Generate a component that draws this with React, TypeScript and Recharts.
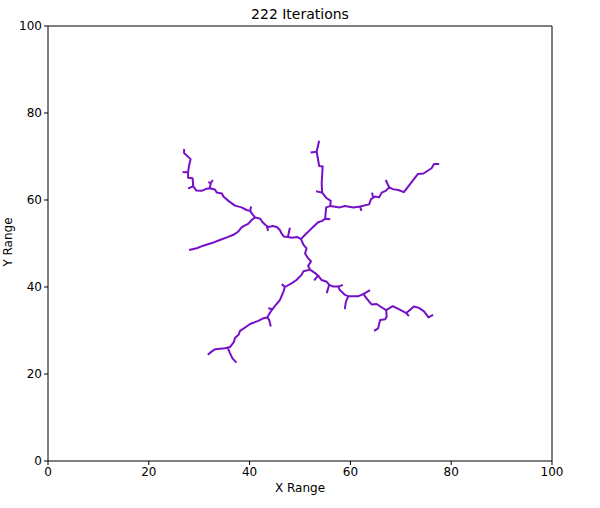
import { LineChart, Line, XAxis, YAxis, ReferenceLine } from "recharts";

type Pt = { x: number; y: number };

// values, in data units
const ticks = [0, 20, 40, 60, 80, 100];

const upperLeftArm: Pt[] = [
  { x: 50.2, y: 51.0 }, { x: 49.4, y: 51.5 }, { x: 48.4, y: 51.3 }, { x: 47.6, y: 51.5 },
  { x: 46.8, y: 51.6 }, { x: 46.4, y: 52.2 }, { x: 46.0, y: 53.1 }, { x: 45.4, y: 53.8 },
  { x: 44.6, y: 54.0 }, { x: 43.7, y: 53.8 }, { x: 43.1, y: 54.3 }, { x: 42.5, y: 55.0 },
  { x: 42.1, y: 55.7 }, { x: 41.1, y: 56.0 }, { x: 40.5, y: 56.8 }, { x: 40.1, y: 57.5 },
  { x: 39.4, y: 57.7 }, { x: 38.4, y: 58.3 }, { x: 37.1, y: 58.7 }, { x: 35.8, y: 59.8 },
  { x: 34.8, y: 60.8 }, { x: 34.5, y: 61.5 }, { x: 33.5, y: 61.7 }, { x: 33.1, y: 62.4 },
  { x: 32.1, y: 62.7 }, { x: 31.5, y: 62.6 }, { x: 30.5, y: 62.1 }, { x: 29.4, y: 62.2 },
  { x: 28.8, y: 63.2 }, { x: 28.7, y: 65.0 }, { x: 27.8, y: 65.1 }, { x: 27.8, y: 66.4 },
  { x: 28.0, y: 68.0 }, { x: 28.3, y: 69.4 }, { x: 27.0, y: 70.8 }, { x: 27.0, y: 71.7 },
];

const leftLowerArm: Pt[] = [
  { x: 41.1, y: 56.0 }, { x: 40.4, y: 55.4 }, { x: 39.7, y: 54.5 }, { x: 38.8, y: 54.0 },
  { x: 38.4, y: 53.7 }, { x: 37.7, y: 52.7 }, { x: 36.8, y: 52.0 }, { x: 35.5, y: 51.4 },
  { x: 34.1, y: 50.8 }, { x: 32.5, y: 50.1 }, { x: 30.8, y: 49.5 }, { x: 29.5, y: 48.9 },
  { x: 28.0, y: 48.5 },
];

const centreToJunction: Pt[] = [
  { x: 50.2, y: 51.0 }, { x: 51.0, y: 52.0 }, { x: 51.8, y: 52.9 }, { x: 52.6, y: 53.8 },
  { x: 53.6, y: 54.9 }, { x: 54.4, y: 55.2 }, { x: 55.0, y: 55.7 }, { x: 56.0, y: 55.6 },
];

const junctionStem: Pt[] = [
  { x: 55.0, y: 55.7 }, { x: 55.1, y: 57.2 }, { x: 55.2, y: 58.3 }, { x: 56.0, y: 58.6 },
];

const topArm: Pt[] = [
  { x: 56.0, y: 58.6 }, { x: 56.1, y: 59.8 }, { x: 55.3, y: 60.4 }, { x: 54.4, y: 61.7 },
  { x: 54.3, y: 63.8 }, { x: 54.5, y: 67.7 }, { x: 53.8, y: 67.8 }, { x: 53.6, y: 69.2 },
  { x: 53.3, y: 71.1 }, { x: 53.8, y: 73.6 },
];

const rightUpperArm: Pt[] = [
  { x: 56.0, y: 58.6 }, { x: 57.9, y: 58.3 }, { x: 58.9, y: 58.6 }, { x: 60.6, y: 58.3 },
  { x: 61.9, y: 58.5 }, { x: 63.7, y: 59.0 }, { x: 64.1, y: 60.2 }, { x: 64.9, y: 60.8 },
  { x: 65.7, y: 60.6 }, { x: 66.2, y: 61.7 }, { x: 67.0, y: 62.1 }, { x: 67.7, y: 62.9 },
  { x: 68.4, y: 62.5 }, { x: 69.5, y: 62.3 }, { x: 70.6, y: 61.8 }, { x: 71.8, y: 63.6 },
  { x: 73.4, y: 66.0 }, { x: 74.5, y: 66.1 }, { x: 76.1, y: 67.3 }, { x: 76.6, y: 68.3 },
  { x: 77.6, y: 68.3 },
];

const centreDown: Pt[] = [
  { x: 50.2, y: 51.0 }, { x: 50.7, y: 49.7 }, { x: 51.3, y: 48.9 }, { x: 51.0, y: 47.7 },
  { x: 51.6, y: 46.6 }, { x: 52.2, y: 45.9 }, { x: 51.6, y: 44.8 }, { x: 52.0, y: 44.0 },
];

const rightLowerArm: Pt[] = [
  { x: 52.0, y: 44.0 }, { x: 53.0, y: 43.2 }, { x: 53.6, y: 42.6 }, { x: 54.3, y: 41.6 },
  { x: 55.3, y: 41.2 }, { x: 55.8, y: 40.5 }, { x: 56.6, y: 40.1 }, { x: 57.6, y: 40.1 },
  { x: 57.9, y: 39.3 }, { x: 58.9, y: 38.2 }, { x: 59.6, y: 37.9 }, { x: 60.5, y: 37.9 },
  { x: 61.6, y: 37.9 }, { x: 62.6, y: 38.4 }, { x: 63.2, y: 37.4 }, { x: 64.2, y: 36.0 },
  { x: 65.2, y: 36.1 }, { x: 66.1, y: 35.4 }, { x: 67.1, y: 34.7 }, { x: 68.4, y: 35.6 },
  { x: 69.8, y: 34.8 }, { x: 71.1, y: 34.0 }, { x: 72.6, y: 35.5 }, { x: 73.6, y: 35.2 },
  { x: 74.6, y: 34.4 }, { x: 75.5, y: 33.0 }, { x: 76.4, y: 33.6 },
];

const rightLowerTail: Pt[] = [
  { x: 67.1, y: 34.7 }, { x: 67.2, y: 33.2 }, { x: 66.9, y: 32.6 }, { x: 65.9, y: 32.4 },
  { x: 65.5, y: 30.5 }, { x: 64.7, y: 29.9 },
];

const leftBottomArm: Pt[] = [
  { x: 52.0, y: 44.0 }, { x: 50.7, y: 43.6 }, { x: 50.3, y: 42.8 }, { x: 49.3, y: 41.6 },
  { x: 48.4, y: 40.9 }, { x: 47.0, y: 40.0 }, { x: 46.7, y: 38.9 }, { x: 46.0, y: 37.0 },
  { x: 45.0, y: 35.6 }, { x: 44.4, y: 34.7 }, { x: 44.0, y: 34.0 }, { x: 43.5, y: 33.0 },
  { x: 42.7, y: 32.8 }, { x: 41.7, y: 32.2 }, { x: 40.1, y: 31.5 }, { x: 39.1, y: 30.7 },
  { x: 38.1, y: 29.9 }, { x: 37.8, y: 29.0 }, { x: 37.1, y: 28.3 }, { x: 36.9, y: 27.4 },
  { x: 36.1, y: 26.2 }, { x: 35.1, y: 25.9 }, { x: 33.2, y: 25.7 }, { x: 32.5, y: 25.2 },
  { x: 31.7, y: 24.4 },
];

// short side twigs
const twigs: Pt[][] = [
  [{ x: 27.8, y: 66.4 }, { x: 26.7, y: 66.4 }],
  [{ x: 28.8, y: 63.2 }, { x: 27.8, y: 62.6 }],
  [{ x: 32.1, y: 62.7 }, { x: 32.3, y: 63.9 }, { x: 32.7, y: 64.6 }],
  [{ x: 32.3, y: 63.9 }, { x: 31.8, y: 64.1 }],
  [{ x: 40.1, y: 57.5 }, { x: 40.3, y: 58.5 }],
  [{ x: 43.4, y: 53.9 }, { x: 43.7, y: 52.9 }],
  [{ x: 47.6, y: 51.5 }, { x: 47.8, y: 52.6 }, { x: 48.0, y: 53.6 }],
  [{ x: 54.4, y: 61.7 }, { x: 53.2, y: 62.0 }],
  [{ x: 53.3, y: 71.1 }, { x: 52.1, y: 70.9 }],
  [{ x: 61.9, y: 58.5 }, { x: 62.2, y: 57.5 }],
  [{ x: 64.5, y: 60.6 }, { x: 64.3, y: 61.7 }],
  [{ x: 67.7, y: 62.9 }, { x: 67.0, y: 64.6 }],
  [{ x: 53.6, y: 42.6 }, { x: 52.8, y: 41.5 }],
  [{ x: 55.8, y: 40.5 }, { x: 55.3, y: 38.6 }],
  [{ x: 57.6, y: 40.1 }, { x: 58.5, y: 40.5 }],
  [{ x: 59.6, y: 37.9 }, { x: 59.1, y: 36.6 }, { x: 58.9, y: 34.9 }],
  [{ x: 62.6, y: 38.4 }, { x: 63.9, y: 39.3 }],
  [{ x: 71.1, y: 34.0 }, { x: 71.6, y: 33.3 }],
  [{ x: 47.0, y: 40.0 }, { x: 46.4, y: 40.7 }],
  [{ x: 44.6, y: 34.9 }, { x: 43.7, y: 35.1 }],
  [{ x: 43.5, y: 33.0 }, { x: 43.9, y: 32.4 }, { x: 44.2, y: 30.9 }],
  [{ x: 35.7, y: 25.9 }, { x: 36.1, y: 24.8 }, { x: 36.6, y: 23.6 }, { x: 37.4, y: 22.6 }],
];

const branches: Pt[][] = [
  upperLeftArm, leftLowerArm, centreToJunction, junctionStem, topArm, rightUpperArm,
  centreDown, rightLowerArm, rightLowerTail, leftBottomArm, ...twigs,
];

const PURPLE = "#7510c8";
const font = '"DejaVu Sans", sans-serif';

export default function App() {
  return (
    <div style={{ position: "absolute", left: 0, top: 0, width: 600, height: 508, background: "#fff", fontFamily: font }}>
      <div style={{ position: "absolute", top: 6, left: 0, width: 600, textAlign: "center", fontSize: 14, color: "#000" }}>
        222 Iterations
      </div>
      <div style={{ position: "absolute", top: 481, left: 48, width: 504, textAlign: "center", fontSize: 12, color: "#000" }}>
        X Range
      </div>
      <div
        style={{
          position: "absolute", left: 8, top: 243, width: 0, height: 0,
        }}
      >
        <div style={{ position: "absolute", left: -40, top: -8, width: 80, textAlign: "center", fontSize: 12, color: "#000", transform: "rotate(-90deg)", whiteSpace: "nowrap" }}>
          Y Range
        </div>
      </div>
      <LineChart width={600} height={508} margin={{ top: 26, right: 48, bottom: 0, left: 0 }}>
        <XAxis
          xAxisId="b"
          type="number"
          dataKey="x"
          domain={[0, 100]}
          ticks={ticks}
          height={47}
          stroke="#000"
          tickSize={4}
          tick={{ fill: "#000", fontSize: 12 }}
        />
        <YAxis
          yAxisId="l"
          type="number"
          domain={[0, 100]}
          ticks={ticks}
          width={48}
          stroke="#000"
          tickSize={4}
          tick={{ fill: "#000", fontSize: 12 }}
        />
        <ReferenceLine xAxisId="b" yAxisId="l" y={100} stroke="#000" strokeWidth={1} />
        <ReferenceLine xAxisId="b" yAxisId="l" x={100} stroke="#000" strokeWidth={1} />
        {branches.map((b, i) => (
          <Line
            key={i}
            xAxisId="b"
            yAxisId="l"
            data={b}
            dataKey="y"
            type="linear"
            dot={false}
            activeDot={false}
            stroke={PURPLE}
            strokeWidth={2}
            strokeLinejoin="round"
            isAnimationActive={false}
          />
        ))}
      </LineChart>
    </div>
  );
}
